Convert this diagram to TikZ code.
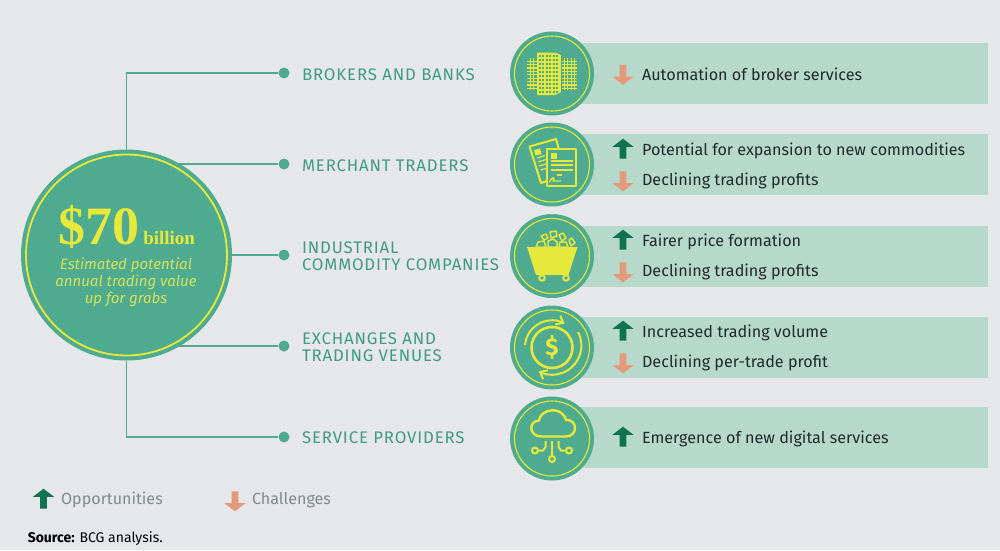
\documentclass[tikz,border=0pt]{standalone}
\usepackage{fontspec}
\setmainfont{Fira Sans}
\newfontfamily\headfont{Liberation Serif}
\newfontfamily\capsfont[LetterSpace = 5]{Fira Sans}
\usetikzlibrary{shapes.arrows, arrows.meta}
\definecolor{pagegrey}{HTML}{E6E7E9}
\definecolor{hubteal}{HTML}{4FAB8F}
\definecolor{bandteal}{HTML}{B7D9CC}
\definecolor{ringyellow}{HTML}{E6E83C}
\definecolor{softyellow}{HTML}{D4E25A}
\definecolor{upgreen}{HTML}{0D7350}
\definecolor{downsalmon}{HTML}{E29A7A}
\definecolor{labelteal}{HTML}{3F9C81}
\definecolor{legendgrey}{HTML}{7D8B8B}
\definecolor{bodyink}{HTML}{1F2A2A}
\begin{document}
\begin{tikzpicture}[x = 1pt, y = -1pt, line width = 1.5pt,
                        hub/.style = {circle, fill = hubteal, minimum size = 211pt, inner sep = 0pt, outer sep = 0pt},
                        hubring/.style = {circle, draw = ringyellow, line width = 1.8pt, minimum size = 201pt, inner sep = 0pt},
                        badge/.style = {circle, fill = hubteal, minimum size = 84pt, inner sep = 0pt},
                        badgering/.style = {circle, draw = ringyellow, line width = 1.1pt, minimum size = 75pt, inner sep = 0pt},
                        band/.style = {fill = bandteal, minimum width = 413pt, minimum height = 61pt, inner sep = 0pt},
                        dot/.style = {circle, fill = hubteal, minimum size = 11pt, inner sep = 0pt},
                        wire/.style = {draw = hubteal},
                        icon/.style = {draw = ringyellow, line width = 2pt, line join = round},
                        upmark/.style = {single arrow, fill = upgreen, shape border rotate = 90, minimum height = 20pt, minimum width = 21pt, inner sep = 0pt, single arrow head extend = 1.6pt, single arrow tip angle = 105},
                        downmark/.style = {upmark, fill = downsalmon, shape border rotate = 270},
                        sector/.style = {anchor = west, align = left, text = labelteal, font = \capsfont\fontsize{16.8}{17}\selectfont},
                        effect/.style = {anchor = west, text = bodyink, font = \fontsize{16.15}{18}\selectfont},
                        legend/.style = {anchor = west, text = legendgrey, font = \fontsize{16.1}{18}\selectfont}]
      \useasboundingbox (0, 0) rectangle (1000, 550);
      \fill [pagegrey] (0, 0) rectangle (1000, 550);
      % bands behind the badges
      \node [band] (b1) at (781.5, 73.5){};
      \node [band] (b2) at (781.5, 164.5){};
      \node [band] (b3) at (781.5, 256){};
      \node [band] (b4) at (781.5, 347.5){};
      \node [band] (b5) at (781.5, 437.5){};
      % hub
      \node [hub] (hub) at (126.5, 255){};
      \node [hubring] (hubin) at (126.5, 255){};
      \node [dot] (d1) at (284, 73){};
      \node [dot] (d2) at (284, 164){};
      \node [dot] (d3) at (284, 255){};
      \node [dot] (d4) at (284, 346){};
      \node [dot] (d5) at (284, 437){};
      \draw [wire] (hub.north) |- (d1);
      \draw [wire] (d2 -| hub.60) -- (d2);
      \draw [wire] (hub.east) -- (d3);
      \draw [wire] (d4 -| hub.-60) -- (d4);
      \draw [wire] (hub.south) |- (d5);
      \node [anchor = base west, inner sep = 0pt, text = ringyellow, font = \headfont\bfseries\fontsize{54}{54}\selectfont] (sum) at (57.5, 244){\$70};
      \node [anchor = base west, inner sep = 0pt, text = ringyellow, font = \headfont\bfseries\fontsize{19}{19}\selectfont] (unit) at (142.5, 244){billion};
      \node [align = center, text = softyellow, font = \itshape\fontsize{15}{17}\selectfont] (note) at (126, 282){Estimated potential\\annual trading value\\up for grabs};
      % sectors
      \node [sector] (s1) at (298, 74.5){BROKERS AND BANKS};
      \node [sector] (s2) at (298, 165.5){MERCHANT TRADERS};
      \node [sector] (s3) at (298, 256){INDUSTRIAL\\COMMODITY COMPANIES};
      \node [sector] (s4) at (298, 347){EXCHANGES AND\\TRADING VENUES};
      \node [sector] (s5) at (298, 438){SERVICE PROVIDERS};
      % badges
      \node [badge] (c1) at (552, 73.5){};
      \node [badgering] (r1) at (552, 73.5){};
      \node [badge] (c2) at (552, 164.5){};
      \node [badgering] (r2) at (552, 164.5){};
      \node [badge] (c3) at (552, 256){};
      \node [badgering] (r3) at (552, 256){};
      \node [badge] (c4) at (552, 347.5){};
      \node [badgering] (r4) at (552, 347.5){};
      \node [badge] (c5) at (552, 438.5){};
      \node [badgering] (r5) at (552, 438.5){};
      % towers
      \draw [icon, line width = 1.2pt, step = 3.4pt] (527, 58) grid (537, 90);
      \draw [icon, line width = 1.2pt, step = 3.4pt] (561, 58) grid (577, 90);
      \fill [ringyellow] (537, 52.5) -- (555, 52.5) -- (561, 55) -- (561, 92) -- (555, 95) -- (537, 95) -- cycle;
      \draw [hubteal, line width = 1.2pt, dash pattern = on 2pt off 1.4pt] (539, 56) -- (558, 56);
      \draw [hubteal, line width = 1.2pt, dash pattern = on 2pt off 1.4pt] (539, 60) -- (558, 60);
      \draw [hubteal, line width = 1.2pt, dash pattern = on 2pt off 1.4pt] (539, 64) -- (558, 64);
      \draw [hubteal, line width = 1.2pt, dash pattern = on 2pt off 1.4pt] (539, 68) -- (558, 68);
      \draw [hubteal, line width = 1.2pt, dash pattern = on 2pt off 1.4pt] (539, 72) -- (558, 72);
      \draw [hubteal, line width = 1.2pt, dash pattern = on 2pt off 1.4pt] (539, 76) -- (558, 76);
      \draw [hubteal, line width = 1.2pt, dash pattern = on 2pt off 1.4pt] (539, 80) -- (558, 80);
      \draw [hubteal, line width = 1.2pt, dash pattern = on 2pt off 1.4pt] (539, 84) -- (558, 84);
      \draw [hubteal, line width = 1.2pt, dash pattern = on 2pt off 1.4pt] (539, 88) -- (558, 88);
      \draw [hubteal, line width = 1.2pt, dash pattern = on 2pt off 1.4pt] (539, 92) -- (558, 92);
      \draw [hubteal, line width = 0.8pt] (561, 55) -- (561, 92);
      % papers
      \draw [icon, fill = hubteal] (529.5, 146.5) -- (556, 139) -- (566, 175) -- (541, 183) -- cycle;
      \fill [ringyellow] (534, 150) -- (540, 148.5) -- (541.5, 154) -- (535.5, 155.5) -- cycle;
      \draw [icon, line width = 1.2pt] (537, 158) -- (545, 155.5);
      \draw [icon, line width = 1.2pt] (538, 162) -- (546, 159.5);
      \draw [icon, line width = 1.2pt] (539, 166) -- (546, 164);
      \draw [icon, line width = 1.2pt] (540.5, 170) -- (546, 168.5);
      \draw [icon, fill = hubteal] (546.5, 148.5) rectangle (576, 186);
      \fill [ringyellow] (550.5, 152.5) rectangle (557, 158.5);
      \draw [icon, line width = 1.3pt] (550.5, 161) -- (572.5, 161);
      \draw [icon, line width = 1.3pt] (550.5, 165) -- (572.5, 165);
      \draw [icon, line width = 1.3pt] (550.5, 170) -- (572.5, 170);
      \draw [icon, line width = 1.3pt] (557, 175) -- (562, 175);
      \draw [icon, line width = 1.3pt] (549.5, 182) .. controls (552, 176) and (556, 177) .. (553, 181) -- (561, 181);
      % cart
      \fill [ringyellow] (527, 247) -- (577.5, 247) -- (568.5, 275) -- (536, 275) -- cycle;
      \draw [icon, line width = 1.5pt, fill = hubteal] (536, 247) -- (538, 242) -- (544, 241) -- (546, 247) -- cycle;
      \draw [icon, line width = 1.5pt, fill = hubteal] (548, 247) -- (548, 241) -- (553, 239) -- (557, 242) -- (557, 247) -- cycle;
      \draw [icon, line width = 1.5pt, fill = hubteal] (559, 247) -- (560, 242) -- (566, 242) -- (568, 247) -- cycle;
      \draw [icon, line width = 1.5pt, fill = hubteal] (541, 236) -- (546, 234) -- (548, 238) -- (544, 240) -- cycle;
      \draw [icon, line width = 1.5pt, fill = hubteal] (550, 232) -- (556, 231) -- (557, 236) -- (551, 238) -- cycle;
      \draw [icon, line width = 1.5pt, fill = hubteal] (559, 235) -- (563, 233) -- (566, 238) -- (562, 241) -- cycle;
      \draw [icon, line width = 1.5pt, fill = hubteal] (569, 240) -- (572, 238) -- (575, 243) -- (571, 246) -- cycle;
      \draw [icon, fill = hubteal] (542, 278) circle [radius = 2.8pt];
      \draw [icon, fill = hubteal] (566, 278) circle [radius = 2.8pt];
      % coin
      \node [circle, draw = ringyellow, line width = 2.6pt, minimum size = 41pt, inner sep = 0pt, text = ringyellow, font = \bfseries\fontsize{24}{24}\selectfont] (coin) at (552, 347.5){\$};
      \draw [icon, -{Straight Barb[length = 6pt, width = 10pt]}] (525, 345) arc [start angle = 175, end angle = 62, radius = 27pt];
      \draw [icon, -{Straight Barb[length = 6pt, width = 10pt]}] (578, 332) arc [start angle = 28, end angle = -118, radius = 29pt];
      % cloud
      \draw [icon, line width = 2.4pt] (541, 436.5) .. controls (529, 436.5) and (528, 421) .. (539, 420.5) .. controls (540, 409) and (562, 405) .. (566, 420) .. controls (578, 419) and (578, 436.5) .. (566, 436.5) -- cycle;
      \draw [icon] (552, 441) -- (552, 456);
      \draw [icon] (545.5, 441) -- (545.5, 447) -- (543, 450.5) -- (538, 450.5);
      \draw [icon] (558.5, 441) -- (558.5, 447) -- (561, 450.5) -- (566, 450.5);
      \draw [icon] (552, 459) circle [radius = 3pt];
      \draw [icon] (535, 450.5) circle [radius = 3pt];
      \draw [icon] (569, 450.5) circle [radius = 3pt];
      % effects
      \node [downmark] (a1) at (623, 73.5){};
      \node [effect] (e1) at (638, 74){Automation of broker services};
      \node [upmark] (a2) at (623, 150){};
      \node [effect] (e2) at (638, 150.5){Potential for expansion to new commodities};
      \node [downmark] (a3) at (623, 180){};
      \node [effect] (e3) at (638, 181){Declining trading profits};
      \node [upmark] (a4) at (623, 241){};
      \node [effect] (e4) at (638, 241.5){Fairer price formation};
      \node [downmark] (a5) at (623, 271){};
      \node [effect] (e5) at (638, 272){Declining trading profits};
      \node [upmark] (a6) at (623, 332){};
      \node [effect] (e6) at (638, 332.5){Increased trading volume};
      \node [downmark] (a7) at (623, 362){};
      \node [effect] (e7) at (638, 363){Declining per-trade profit};
      \node [upmark] (a8) at (623, 438){};
      \node [effect] (e8) at (638, 438.5){Emergence of new digital services};
      % legend
      \node [upmark] (k1) at (43.5, 500){};
      \node [legend] (k1t) at (57, 500){Opportunities};
      \node [downmark] (k2) at (235, 500){};
      \node [legend] (k2t) at (248, 500){Challenges};
      \node [anchor = west, inner sep = 0pt, text = black, font = \fontsize{14}{16}\selectfont] (src) at (27, 539){\textbf{Source:} BCG analysis.};
    \end{tikzpicture}
\end{document}
